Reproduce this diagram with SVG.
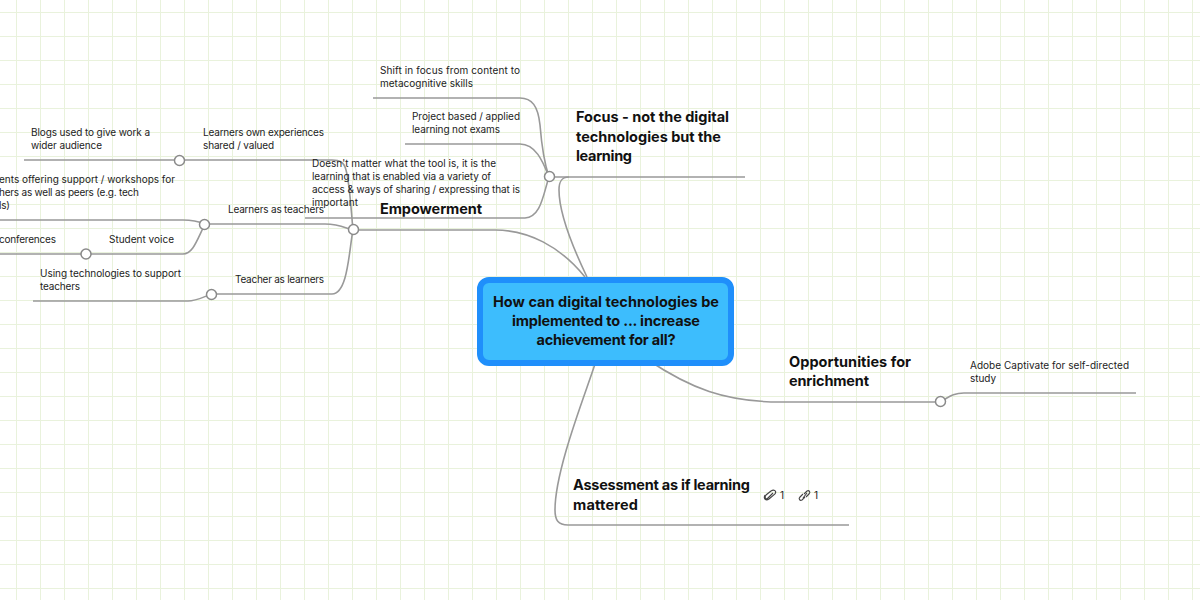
<svg xmlns="http://www.w3.org/2000/svg" width="1200" height="600" viewBox="0 0 1200 600">
<defs>
<pattern id="grid" width="24" height="24" patternUnits="userSpaceOnUse" x="16" y="12"><path d="M.5 0V24M0 .5H24" fill="none" stroke="#e9f2dc" stroke-width="1"/></pattern>
</defs>
<style>
text{font-family:"Inter","Liberation Sans",sans-serif;fill:#1c1c1c;lengthAdjust:spacing}
.s{font-size:10px}
.b{font-size:14.5px;font-weight:700;fill:#111}
.c{fill:none;stroke:#999;stroke-width:1.6}
.d{fill:#fff;stroke:#8a8a8a;stroke-width:1.5}
.i{fill:none;stroke:#444;stroke-width:1.1}
</style>
<rect width="1200" height="600" fill="#fff"/>
<rect width="1200" height="600" fill="url(#grid)"/>
<g id="connectors">
<path class="c" d="M587 277C575 252 559 215 559 190C559 182 561 177 569 177"/>
<path class="c" d="M549 177H745"/>
<path class="c" d="M549 177C545 165 542 150 540 125C538 106 532 98 520 98H373"/>
<path class="c" d="M549 177C544 165 537 144 520 144H405"/>
<path class="c" d="M549 177C543 195 541 217 525 218H305"/>
<path class="c" d="M585 277C560 246 528 230 495 230H353"/>
<path class="c" d="M353 230C351 210 350 185 346 170C344 162 340 160 332 160H24"/>
<path class="c" d="M353 230C345 228 340 224 325 224H205"/>
<path class="c" d="M205 224C200 222 194 220 183 220H-5"/>
<path class="c" d="M205 224C197 240 193 254 183 254H-5"/>
<path class="c" d="M353 230C349 250 348 294 332 294H212"/>
<path class="c" d="M212 294C205 296 197 301 188 301H33"/>
<path class="c" d="M595 364C585 395 555 470 555 510C555 520 558 525 568 525H849"/>
<path class="c" d="M648 360C690 388 725 402 780 402H940"/>
<path class="c" d="M940 402C948 398 952 393 964 393H1136"/>
</g>
<g id="n-root">
<rect x="480" y="280" width="251" height="83" rx="9" fill="#3dbdfd" stroke="#1f8ffb" stroke-width="6"/>
<text class="b" text-anchor="middle" x="606" y="307" textLength="226">How can digital technologies be</text>
<text class="b" text-anchor="middle" x="606" y="326" textLength="188">implemented to ... increase</text>
<text class="b" text-anchor="middle" x="606" y="345" textLength="139">achievement for all?</text>
</g>
<g id="n-focus">
<circle class="d" cx="549.500" cy="176.500" r="5"/>
<text class="b" x="576" y="122" textLength="153">Focus - not the digital</text>
<text class="b" x="576" y="142" textLength="145">technologies but the</text>
<text class="b" x="576" y="161" textLength="56">learning</text>
</g>
<g id="n-shift"><text class="s" x="380" y="74" textLength="140">Shift in focus from content to</text><text class="s" x="380" y="87" textLength="93">metacognitive skills</text></g>
<g id="n-project"><text class="s" x="412" y="120" textLength="108">Project based / applied</text><text class="s" x="412" y="133" textLength="88">learning not exams</text></g>
<g id="n-tool"><text class="s" x="312" y="167" textLength="184">Doesn't matter what the tool is, it is the</text><text class="s" x="312" y="180" textLength="179">learning that is enabled via a variety of</text><text class="s" x="312" y="193" textLength="208">access &amp; ways of sharing / expressing that is</text><text class="s" x="312" y="206" textLength="46">important</text></g>
<g id="n-empowerment"><circle class="d" cx="353.500" cy="229.500" r="5"/><text class="b" x="380" y="214" textLength="102">Empowerment</text></g>
<g id="n-own"><circle class="d" cx="179.500" cy="160.500" r="5"/><text class="s" x="203" y="136" textLength="121">Learners own experiences</text><text class="s" x="203" y="149" textLength="71">shared / valued</text></g>
<g id="n-blogs"><text class="s" x="31" y="136" textLength="119">Blogs used to give work a</text><text class="s" x="31" y="149" textLength="71">wider audience</text></g>
<g id="n-ateachers"><circle class="d" cx="204.500" cy="224.500" r="5"/><text class="s" x="228" y="213" textLength="96">Learners as teachers</text></g>
<g id="n-students"><text class="s" x="-1" y="183" textLength="176">ents offering support / workshops for</text><text class="s" x="-1" y="196" textLength="140">hers as well as peers (e.g. tech</text><text class="s" x="-1" y="209" textLength="11">ls)</text></g>
<g id="n-voice"><circle class="d" cx="86" cy="254" r="5"/><text class="s" x="109" y="243" textLength="65">Student voice</text></g>
<g id="n-conf"><text class="s" x="-1" y="243" textLength="57">conferences</text></g>
<g id="n-tlearners"><circle class="d" cx="211.500" cy="294.500" r="5"/><text class="s" x="235" y="283" textLength="89">Teacher as learners</text></g>
<g id="n-using"><text class="s" x="40" y="277" textLength="141">Using technologies to support</text><text class="s" x="40" y="290" textLength="40">teachers</text></g>
<g id="n-assess"><text class="b" x="573" y="490" textLength="177">Assessment as if learning</text><text class="b" x="573" y="510" textLength="65">mattered</text>
<path class="i" d="M773 493L768 498C766 500 764 498 766 495L771 491C774 489 777 491 775 494L769 499C766 501 763 499 765 495"/>
<path class="i" d="M804 494L807 491C809 490 811 492 809 494L806 497M805 497L802 500C800 501 798 499 800 497L803 494M803 498L807 493"/>
<text class="s" x="780" y="499">1</text><text class="s" x="814" y="499">1</text></g>
<g id="n-opp"><circle class="d" cx="940.500" cy="401.500" r="5"/><text class="b" x="789" y="367" textLength="122">Opportunities for</text><text class="b" x="789" y="386" textLength="80">enrichment</text></g>
<g id="n-adobe"><text class="s" x="970" y="369" textLength="159">Adobe Captivate for self-directed</text><text class="s" x="970" y="382" textLength="26">study</text></g>
</svg>
